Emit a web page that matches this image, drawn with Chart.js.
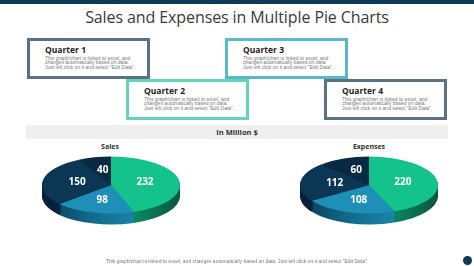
<!DOCTYPE html>
<html><head><meta charset="utf-8">
<script src="https://cdn.jsdelivr.net/npm/chart.js@4"></script>
<style>
html,body{margin:0;padding:0;background:#fff;}
body{width:474px;height:266px;position:relative;overflow:hidden;font-family:"Lato","Open Sans",sans-serif;}
.abs{position:absolute;}
#topbar{left:0;top:0;width:474px;height:4px;background:#0b3a57;}
#title{left:0;top:6px;width:474px;text-align:center;font-size:16px;color:#3a3a3a;font-family:"Open Sans",sans-serif;letter-spacing:-0.1px;}
.box{position:absolute;box-sizing:border-box;border:3px solid #5a7282;background:#fff;width:123px;height:41px;}
.box h4{margin:0;position:absolute;left:15px;top:3px;font-size:8.5px;font-weight:bold;color:#222;font-family:"Open Sans",sans-serif;}
.box p{margin:0;position:absolute;left:15px;top:15px;font-size:5px;line-height:4.3px;color:#777;font-family:"Liberation Sans",Arial,sans-serif;white-space:nowrap;}
#band{left:26px;top:125px;width:422px;height:14px;background:#efefef;text-align:center;font-size:7.5px;font-weight:bold;color:#333;line-height:14px;font-family:"Open Sans",sans-serif;}
.ptitle{top:142px;width:120px;text-align:center;font-size:7px;font-weight:bold;color:#333;font-family:"Open Sans",sans-serif;}
.cw{position:absolute;width:150px;height:150px;}
#foot{left:0;top:258px;width:474px;text-align:center;font-size:5px;color:#777;font-family:"Liberation Sans",Arial,sans-serif;}
#icon{left:463px;top:256px;width:9px;height:9px;border-radius:50%;background:#0b3a57;}
</style></head>
<body>
<div id="topbar" class="abs"></div>
<div id="title" class="abs"></div>
<div id="boxes"></div>
<div id="band" class="abs"></div>
<div id="t0" class="abs ptitle" style="left:50px"></div>
<div id="t1" class="abs ptitle" style="left:309px"></div>
<div class="cw" style="left:36px;top:110px"><canvas id="c0"></canvas></div>
<div class="cw" style="left:294px;top:110px"><canvas id="c1"></canvas></div>
<div id="foot" class="abs"></div>
<div id="icon" class="abs"></div>
<script>
// ---- data ----
const chartTitle = 'Sales and Expenses in Multiple Pie Charts';
const quarterLabels = ['Quarter 1', 'Quarter 2', 'Quarter 3', 'Quarter 4'];
const quarterText = ['This graph/chart is linked to excel, and', 'changes automatically based on data.', 'Just left click on it and select "Edit Data".'];
const unitLabel = 'In Million $';
const pieTitles = ['Sales', 'Expenses'];
const salesValues = [232, 98, 150, 40];
const expensesValues = [220, 108, 112, 60];
const footText = 'This graph/chart is linked to excel, and changes automatically based on data. Just left click on it and select "Edit Data".';

// ---- styles ----
const topColors = ['#14c28c', '#1e8fb6', '#0b3654', '#082b43'];
const boxPos = [[27,38,'#5a7282'],[126,79,'#63d3bc'],[225,38,'#5ab9c9'],[324,79,'#5a7282']];

document.getElementById('title').textContent = chartTitle;
document.getElementById('band').textContent = unitLabel;
document.getElementById('t0').textContent = pieTitles[0];
document.getElementById('t1').textContent = pieTitles[1];
document.getElementById('foot').textContent = footText;
const boxes = document.getElementById('boxes');
quarterLabels.forEach((q, i) => {
  const d = document.createElement('div');
  d.className = 'box';
  d.style.left = boxPos[i][0] + 'px';
  d.style.top = boxPos[i][1] + 'px';
  d.style.borderColor = boxPos[i][2];
  const h = document.createElement('h4'); h.textContent = q; d.appendChild(h);
  const p = document.createElement('p'); p.innerHTML = quarterText.map(s => s.replace(/&/g,'&amp;').replace(/</g,'&lt;')).join('<br>'); d.appendChild(p);
  boxes.appendChild(d);
});

const K = 28.5 / 69, DEPTH = 11;
function sideFill(ctx, a, i) {
  const r = a.outerRadius;
  const g = ctx.createLinearGradient(a.x - r, 0, a.x + r, 0);
  if (i === 0) { g.addColorStop(0, '#11a57a'); g.addColorStop(0.6, '#0e9269'); g.addColorStop(1, '#07563f'); }
  else if (i === 1) { g.addColorStop(0, '#0b3a52'); g.addColorStop(0.35, '#13698b'); g.addColorStop(0.7, '#1a86aa'); g.addColorStop(1, '#1a86aa'); }
  else { g.addColorStop(0, '#05203a'); g.addColorStop(1, '#072a44'); }
  return g;
}
const pie3d = {
  id: 'pie3d',
  beforeDatasetsDraw(chart) {
    const ctx = chart.ctx;
    const arcs = chart.getDatasetMeta(0).data;
    for (let d = DEPTH; d >= 1; d--) {
      arcs.forEach((a, i) => {
        ctx.save();
        ctx.translate(a.x, a.y + d);
        ctx.scale(1, K);
        ctx.beginPath();
        ctx.moveTo(0, 0);
        ctx.arc(0, 0, a.outerRadius, a.startAngle, a.endAngle);
        ctx.closePath();
        ctx.restore();
        ctx.fillStyle = sideFill(ctx, a, i);
        ctx.fill();
      });
    }
    const a0 = arcs[0];
    ctx.save();
    ctx.translate(a0.x, a0.y);
    ctx.scale(1, K);
    ctx.translate(-a0.x, -a0.y);
  },
  afterDatasetsDraw(chart) {
    const ctx = chart.ctx;
    ctx.restore();
    const arcs = chart.getDatasetMeta(0).data;
    const vals = chart.data.datasets[0].data;
    ctx.save();
    ctx.fillStyle = '#ffffff';
    ctx.font = 'bold 10px "Open Sans", sans-serif';
    ctx.textAlign = 'center';
    ctx.textBaseline = 'middle';
    arcs.forEach((a, i) => {
      const m = (a.startAngle + a.endAngle) / 2;
      const x = a.x + Math.cos(m) * a.outerRadius * 0.5;
      const y = a.y + Math.sin(m) * a.outerRadius * K * 0.55;
      ctx.fillText(String(vals[i]), x, y);
    });
    ctx.restore();
  }
};

function makePie(id, values) {
  new Chart(document.getElementById(id), {
    type: 'pie',
    data: { labels: quarterLabels, datasets: [{ data: values, backgroundColor: topColors, borderWidth: 0, hoverOffset: 0 }] },
    options: {
      responsive: true, maintainAspectRatio: false, animation: false,
      layout: { padding: 6 },
      events: [],
      plugins: { legend: { display: false }, tooltip: { enabled: false } }
    },
    plugins: [pie3d]
  });
}
makePie('c0', salesValues);
makePie('c1', expensesValues);
</script>
</body></html>
